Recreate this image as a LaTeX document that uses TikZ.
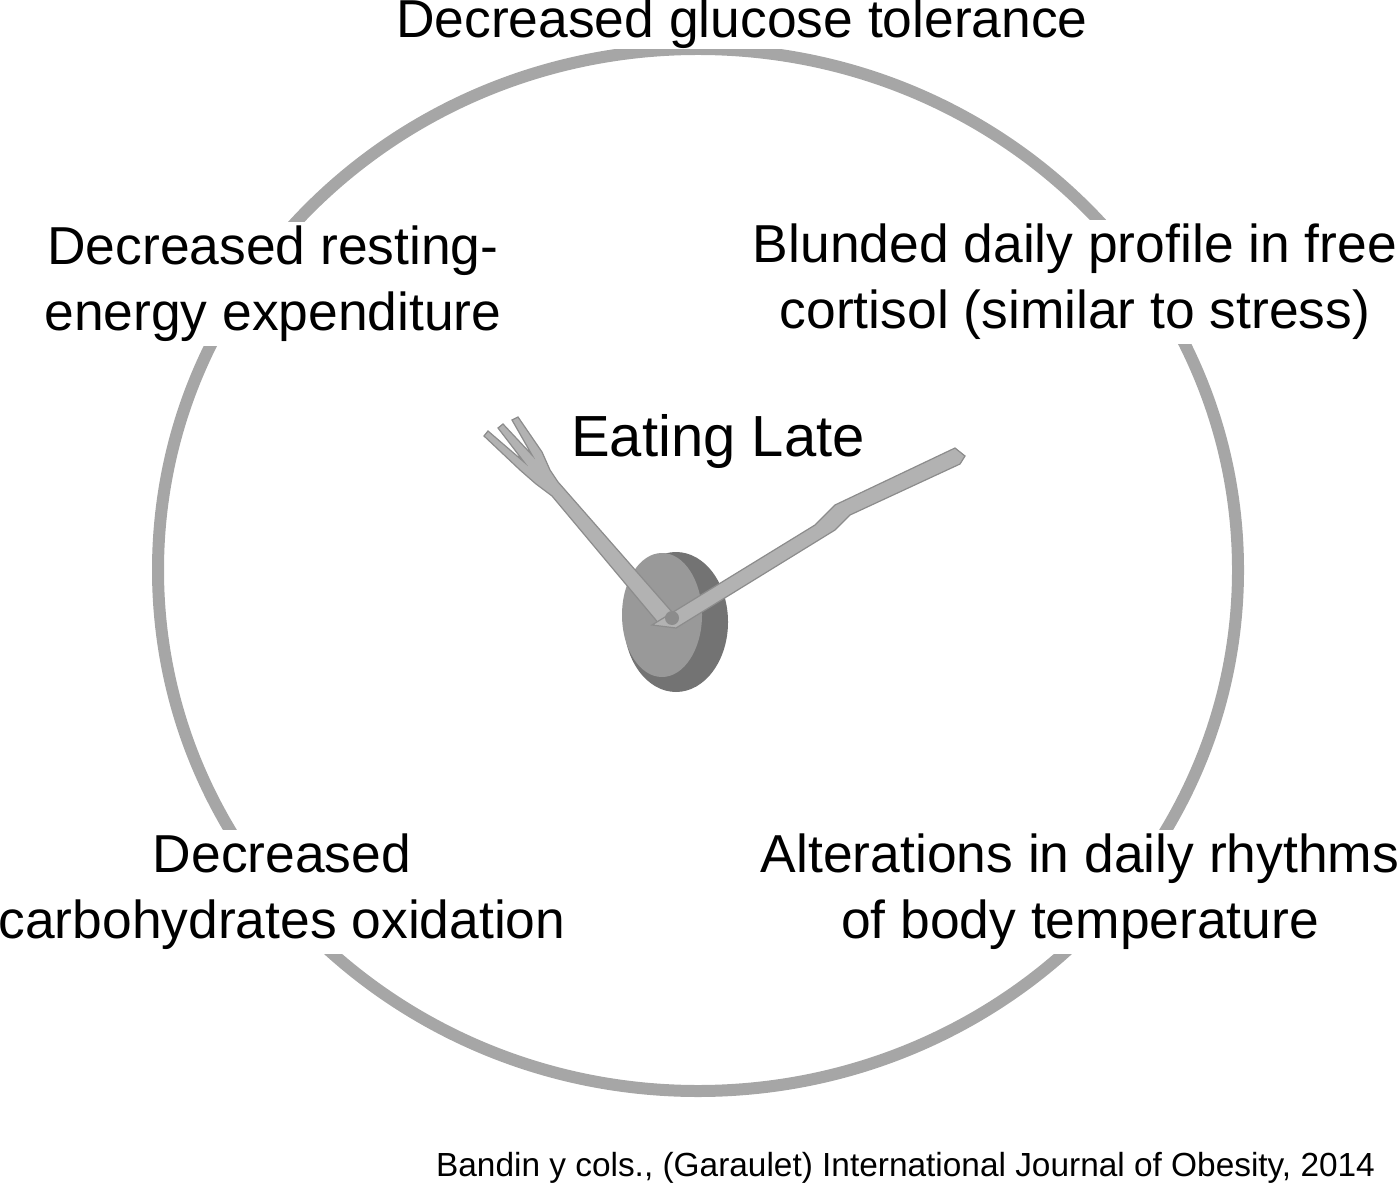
\documentclass[tikz,border=0pt]{standalone}
\usepackage{fontspec}
\setmainfont{Liberation Sans}
\begin{document}
\begin{tikzpicture}[x=0.5pt,y=-0.5pt,
  lbl/.style={fill=white,align=center,inner sep=2pt,font=\fontsize{26.7}{33}\selectfont},
  hand/.style={fill=black!30,draw=black!45,line width=0.6pt}]
\useasboundingbox (0,0) rectangle (1400,1186);
\draw[black!35,line width=6pt] (698,570) ellipse [x radius=540,y radius=521];
\node[lbl,inner sep=0pt] (top) at (742,24) {Decreased glucose tolerance};
\node[lbl] (tl) at (273,284) {Decreased resting-\\energy expenditure};
\node[lbl] (tr) at (1075,282) {Blunded daily profile in free\\cortisol (similar to stress)};
\node[lbl] (bl) at (282,892) {Decreased\\carbohydrates oxidation};
\node[lbl] (br) at (1080,892) {Alterations in daily rhythms\\of body temperature};
\node[font=\fontsize{29}{35}\selectfont] (eat) at (718,442) {Eating Late};
\node[anchor=east,font=\fontsize{16.7}{20}\selectfont] (cite) at (1382,1168) {Bandin y cols., (Garaulet) International Journal of Obesity, 2014};
% hub
\fill[black!55] (676,622) ellipse [x radius=52,y radius=70];
\fill[black!40] (662,615) ellipse [x radius=40,y radius=62];
% fork hand
\path[hand] (660,625) -- (552,496) -- (536,484) -- (520,470) -- (484,436) -- (488,431) -- (524,462) -- (498,428) -- (503,424) -- (532,455) -- (512,420) -- (518,417) -- (542,452) -- (550,470) -- (558,482) -- (672,612) -- cycle;
% knife hand
\path[hand] (652,625) -- (815,525) -- (835,505) -- (955,448) -- (965,456) -- (960,464) -- (850,515) -- (835,530) -- (676,628) -- cycle;
\fill[black!45] (672,618) circle (7);
\end{tikzpicture}
\end{document}
